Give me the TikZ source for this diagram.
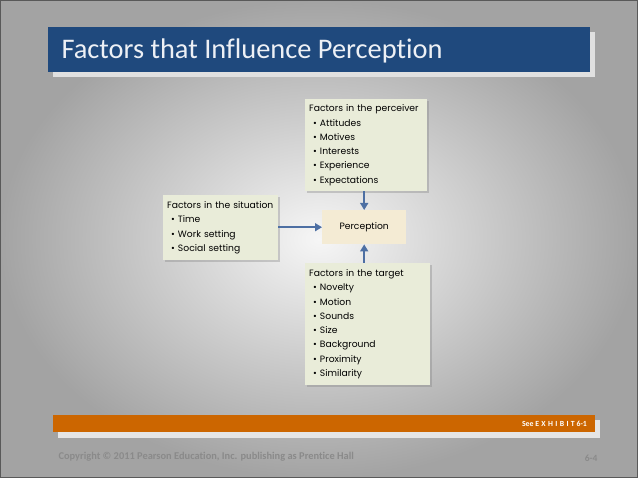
\documentclass[tikz,border=0pt]{standalone}
\usepackage{fontspec}
\setmainfont[Ligatures=NoCommon]{Carlito}
\newfontfamily\boxfont{Poppins}
\usetikzlibrary{shapes, arrows.meta, positioning, calc, shadows}
\definecolor{slideblue}{HTML}{1F497D}
\definecolor{slideorange}{HTML}{CC6600}
\definecolor{boxgreen}{HTML}{E9ECD9}
\definecolor{boxbeige}{HTML}{F4EBD4}
\definecolor{arrowblue}{HTML}{4D6FA3}
\definecolor{footgray}{HTML}{8A8A8A}
\newcommand{\fitem}[1]{\mbox{\hspace*{4pt}\textbullet\hspace{3pt}#1}}

\begin{document}
\begin{tikzpicture}[
    x=1pt, y=-1pt,
    arr/.style={-{Triangle[length=7pt, width=8pt]}, line width=1.5pt, arrowblue},
    factor/.style={fill=boxgreen, anchor=north west, align=left,
                   inner xsep=4pt, inner ysep=4pt,
                   font=\boxfont\fontsize{9.2}{14.3}\selectfont,
                   drop shadow={shadow xshift=2pt, shadow yshift=-2pt, opacity=0.35}},
    bar/.style={anchor=north west, inner sep=0pt}
  ]
    \useasboundingbox (0,0) rectangle (638,478);
    \shade[inner color=white!93!gray, outer color=gray!72!white] (0,0) rectangle (638,478);
    \draw[gray!70!black, line width=1pt] (0.5,0.5) rectangle (637.5,477.5);

    % title bar
    \fill[black!12!white] (53,32) rectangle (595,77);
    \node[bar, fill=slideblue, minimum width=542pt, minimum height=45pt] (title) at (48,27) {};
    \node[anchor=west, text=white!92!slideblue, font=\fontsize{28.4}{31}\selectfont]
      (titletext) at ($(title.west)+(10,1)$) {Factors that Influence Perception};

    % the four boxes
    \node[factor, text width=114pt, minimum height=92pt] (perceiver) at (305,99)
      {\mbox{Factors in the perceiver}\\ \fitem{Attitudes}\\ \fitem{Motives}\\ \fitem{Interests}\\
       \fitem{Experience}\\ \fitem{Expectations}};
    \node[factor, text width=107pt, minimum height=65pt] (situation) at (163,195)
      {\mbox{Factors in the situation}\\ \fitem{Time}\\ \fitem{Work setting}\\ \fitem{Social setting}};
    \node[fill=boxbeige, anchor=north west, minimum width=84pt, minimum height=34pt,
          font=\boxfont\fontsize{9.2}{10}\selectfont] (perception) at (322,210) {Perception};
    \node[factor, text width=117pt, minimum height=122pt] (target) at (305,263)
      {\mbox{Factors in the target}\\ \fitem{Novelty}\\ \fitem{Motion}\\ \fitem{Sounds}\\ \fitem{Size}\\
       \fitem{Background}\\ \fitem{Proximity}\\ \fitem{Similarity}};

    \draw[arr] (situation.east |- perception) -- (perception.west);
    \draw[arr] (perceiver.south -| perception) -- (perception.north);
    \draw[arr] (target.north -| perception) -- (perception.south);

    % footer bar
    \fill[black!10!white] (58,420) rectangle (600,438);
    \node[bar, fill=slideorange, minimum width=542pt, minimum height=17pt] (footbar) at (53,415) {};
    \node[anchor=east, text=white, font=\bfseries\fontsize{7.8}{9}\selectfont]
      (exhibit) at ($(footbar.east)+(-5,0)$) {See {\addfontfeature{LetterSpace=30}EXHIBIT}\ 6-1};
    \node[anchor=west, text=footgray, font=\bfseries\fontsize{10.4}{12}\selectfont]
      (copyright) at (55,457) {Copyright \textcopyright{} 2011 Pearson Education, Inc. publishing as Prentice Hall};
    \node[anchor=east, text=footgray, font=\bfseries\fontsize{9.5}{11}\selectfont]
      (pageno) at (601,458) {6-4};
\end{tikzpicture}
\end{document}
